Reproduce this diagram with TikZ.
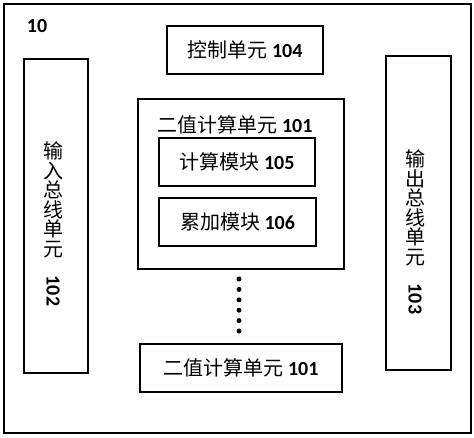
\documentclass[tikz,border=0pt]{standalone}
\usepackage{fontspec}
\setmainfont{Carlito}
\newfontfamily\cjk{Noto Sans CJK SC}
\newfontfamily\numf{Carlito}
\usepackage{tikz}
\usetikzlibrary{positioning}

\newcommand{\unitlbl}[2]{{\cjk #1}\ \textbf{#2}}
\newcommand{\tightlines}{\lineskiplimit=-100pt\relax}

\tikzset{
	box/.style={draw, line width=1.5pt, inner sep=0pt, font=\fontsize{20}{21}\selectfont},
	lbl/.style={inner sep=0pt, font=\fontsize{20}{21}\selectfont},
	vlbl/.style={inner sep=0pt, align=center, font=\fontsize{20}{19.5}\selectfont\cjk\tightlines},
	dot/.style={circle, fill=black, inner sep=0pt, minimum size=5pt}
}

\begin{document}
\begin{tikzpicture}[x=1pt, y=1pt]
	\useasboundingbox (0,0) rectangle (474,-438);

	% outer frame
	\node[box, minimum width=467pt, minimum height=429pt] (sys) at (237.5,-218.5) {};
	\node[lbl] (syslbl) at (37,-26) {\textbf{10}};

	% control unit
	\node[box, minimum width=156pt, minimum height=48pt] (ctrl) at (245,-50) {\unitlbl{控制单元}{104}};

	% bus units
	\node[box, minimum width=64pt, minimum height=314pt] (inbus) at (56,-216) {};
	\node[vlbl] (inlbl) at (53,-224) {输\\入\\总\\线\\单\\元\\\rotatebox{-90}{\numf\bfseries 102}};
	\node[box, minimum width=65pt, minimum height=314pt] (outbus) at (418.5,-213) {};
	\node[vlbl] (outlbl) at (415,-232) {输\\出\\总\\线\\单\\元\\\rotatebox{-90}{\numf\bfseries 103}};

	% binary computing unit
	\node[box, minimum width=206pt, minimum height=170pt] (bin) at (241,-184) {};
	\node[lbl] (binlbl) at (235,-125) {\unitlbl{二值计算单元}{101}};
	\node[box, minimum width=156pt, minimum height=48pt] (calc) at (237,-162) {\unitlbl{计算模块}{105}};
	\node[box, minimum width=157pt, minimum height=48pt] (acc) at (237.5,-222) {\unitlbl{累加模块}{106}};

	% ellipsis
	\foreach \i in {0,...,5}
		\node[dot] (d\i) at (239,-279-10.4*\i) {};

	% last binary computing unit
	\node[box, minimum width=202pt, minimum height=48pt] (binn) at (241,-368) {\unitlbl{二值计算单元}{101}};
\end{tikzpicture}
\end{document}
